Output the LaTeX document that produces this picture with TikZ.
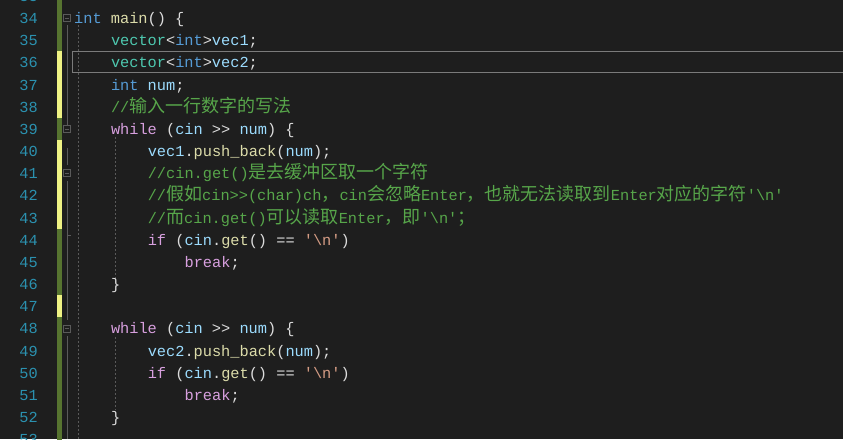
\documentclass[tikz,border=0pt]{standalone}
\usepackage{fontspec}
\setmonofont{Liberation Mono}
\newfontfamily\cjk{Noto Sans CJK SC}
\definecolor{bg}{HTML}{1E1E1E}
\definecolor{lnum}{HTML}{2B91AF}
\definecolor{kw}{HTML}{569CD6}
\definecolor{cm}{HTML}{57A64A}
\definecolor{ty}{HTML}{4EC9B0}
\definecolor{ctl}{HTML}{D8A0DF}
\definecolor{idv}{HTML}{9CDCFE}
\definecolor{fn}{HTML}{DCDCAA}
\definecolor{pu}{HTML}{DCDCDC}
\definecolor{str}{HTML}{D69D85}
\definecolor{greenbar}{HTML}{577430}
\definecolor{yellowbar}{HTML}{EFF284}
\definecolor{guide}{HTML}{5A5A5A}
\newcommand\cK[1]{\textcolor{kw}{#1}}
\newcommand\cC[1]{\textcolor{cm}{#1}}
\newcommand\cT[1]{\textcolor{ty}{#1}}
\newcommand\cQ[1]{\textcolor{ctl}{#1}}
\newcommand\cV[1]{\textcolor{idv}{#1}}
\newcommand\cF[1]{\textcolor{fn}{#1}}
\newcommand\cS[1]{\textcolor{str}{#1}}
\newcommand\zh[1]{{\cjk\fontsize{18}{18}\selectfont #1}}
\tikzset{code/.style={anchor=base west,inner sep=0pt,text=pu,font=\ttfamily\fontsize{15.3}{16}\selectfont},
 num/.style={anchor=base east,inner sep=0pt,text=lnum,font=\ttfamily\fontsize{15.3}{16}\selectfont},
 fold/.style={draw=guide,fill=bg,minimum size=7pt,inner sep=0pt,line width=0.6pt}}
\begin{document}
\begin{tikzpicture}[x=1pt,y=-1pt]
\fill[bg] (0,0) rectangle (843,439);
\useasboundingbox (0,0) rectangle (843,439);
\draw[draw=guide!80,line width=1pt] (72,51.5) rectangle (843,72.5);
\def\chbar#1#2#3{\fill[fill=#1] (57,{18+(#2-34)*22.17-11}) rectangle (62,{18+(#3-34)*22.17+11.1});}
\chbar{greenbar}{33}{35}\chbar{yellowbar}{36}{38}\chbar{greenbar}{39}{39}\chbar{yellowbar}{40}{43}
\chbar{greenbar}{44}{46}\chbar{yellowbar}{47}{47}\chbar{greenbar}{48}{53}
\draw[guide,dash pattern=on 2pt off 2pt] (78,25) -- (78,439);
\draw[guide,dash pattern=on 2pt off 2pt] (115,137) -- (115,290);
\draw[guide,dash pattern=on 2pt off 2pt] (115,337) -- (115,410);
\draw[guide] (67,25) -- (67,131) (67,148)--(67,165) (67,181)--(67,235) -- (71,235) (67,235)--(67,320) (67,336)--(67,439);
\foreach \n/\yy in {a/34,b/39,c/41,d/48}{
  \node[fold] (f\n) at (67,{18+(\yy-34)*22.17}) {};
  \draw[guide,line width=0.6pt] ([xshift=-2pt]f\n.center) -- ([xshift=2pt]f\n.center);}
\foreach \i in {33,...,53}
  \node[num] (n\i) at (38,{18+(\i-34)*22.17+5.5}) {\i};
\def\ly#1{{18+(#1-34)*22.17+5.5}}
\node[code] (l34) at (74,\ly{34}) {\cK{int} \cF{main}() \{};
\node[code] (l35) at (110.8,\ly{35}) {\cT{vector}<\cK{int}>\cV{vec1};};
\node[code] (l36) at (110.8,\ly{36}) {\cT{vector}<\cK{int}>\cV{vec2};};
\node[code] (l37) at (110.8,\ly{37}) {\cK{int} \cV{num};};
\node[code] (l38) at (110.8,\ly{38}) {\cC{//\zh{输入一行数字的写法}}};
\node[code] (l39) at (110.8,\ly{39}) {\cQ{while} (\cV{cin} >> \cV{num}) \{};
\node[code] (l40) at (147.6,\ly{40}) {\cV{vec1}.\cF{push\_back}(\cV{num});};
\node[code] (l41) at (147.6,\ly{41}) {\cC{//cin.get()\zh{是去缓冲区取一个字符}}};
\node[code] (l42) at (147.6,\ly{42}) {\cC{//\zh{假如}cin>>(char)ch\zh{，}cin\zh{会忽略}Enter\zh{，也就无法读取到}Enter\zh{对应的字符}'\textbackslash n'}};
\node[code] (l43) at (147.6,\ly{43}) {\cC{//\zh{而}cin.get()\zh{可以读取}Enter\zh{，即}'\textbackslash n'\zh{；}}};
\node[code] (l44) at (147.6,\ly{44}) {\cQ{if} (\cV{cin}.\cF{get}() == \cS{'\textbackslash n'})};
\node[code] (l45) at (184.4,\ly{45}) {\cQ{break};};
\node[code] (l46) at (110.8,\ly{46}) {\}};
\node[code] (l48) at (110.8,\ly{48}) {\cQ{while} (\cV{cin} >> \cV{num}) \{};
\node[code] (l49) at (147.6,\ly{49}) {\cV{vec2}.\cF{push\_back}(\cV{num});};
\node[code] (l50) at (147.6,\ly{50}) {\cQ{if} (\cV{cin}.\cF{get}() == \cS{'\textbackslash n'})};
\node[code] (l51) at (184.4,\ly{51}) {\cQ{break};};
\node[code] (l52) at (110.8,\ly{52}) {\}};
\end{tikzpicture}
\end{document}
